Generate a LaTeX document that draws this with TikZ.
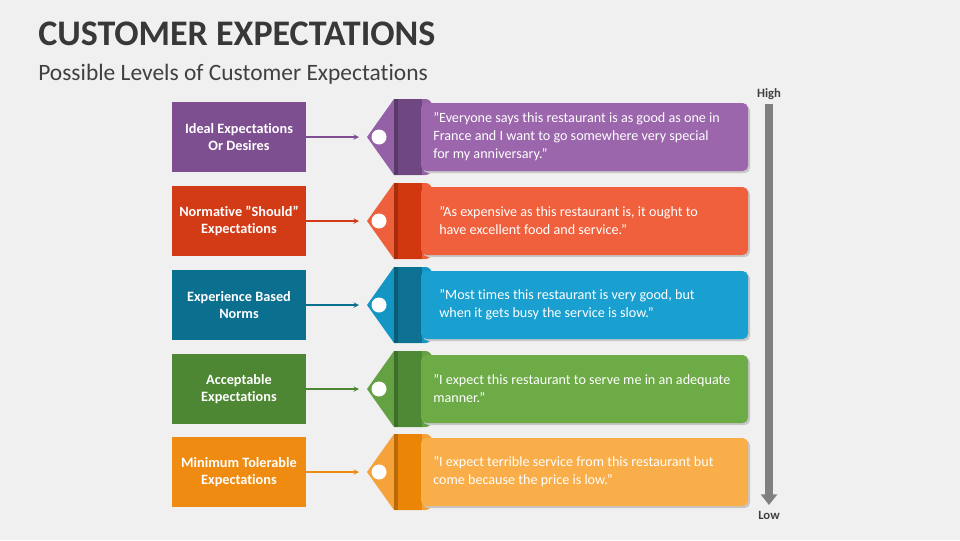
\documentclass[tikz,border=0pt]{standalone}
\usepackage{fontspec}
\setmainfont{Carlito}[Ligatures={NoCommon}]
\usetikzlibrary{arrows.meta}
\begin{document}
\begin{tikzpicture}[x=0.75pt,y=-0.75pt,
  lbl/.style={font=\fontsize{10.7}{13}\selectfont\bfseries,text=white,align=center,inner sep=0},
  qt/.style={font=\fontsize{10.6}{13.5}\selectfont,text=white,align=left,anchor=west,inner sep=0}]
\fill[white!94!black] (0,0) rectangle (960,540);
\useasboundingbox (0,0) rectangle (960,540);
\node[anchor=west,inner sep=0,text=black!78,font=\fontsize{27}{30}\selectfont\bfseries] (title) at (38,34) {CUSTOMER EXPECTATIONS};
\node[anchor=west,inner sep=0,text=black!75,font=\fontsize{17.6}{20}\selectfont] (sub) at (38,74) {Possible Levels of Customer Expectations};
\def\q{\symbol{34}}
\def\row#1#2#3#4#5#6#7#8{%
  \fill[#2] (172,#1-35) rectangle (306,#1+35);
  \node[lbl] (l#8) at (239,#1) {#6};
  \fill[#4] (367,#1) -- (394,#1-38) [rounded corners=5] -- (432,#1-38) -- (432,#1+38) [sharp corners] -- (394,#1+38) -- cycle;
  \fill[#5] (398,#1-38) rectangle (422,#1+38);
  \fill[#5!80!black] (394,#1-38) rectangle (398,#1+38);
  \fill[white] (379,#1) circle (7.5);
  \coordinate (c#8) at (359,#1);
  \draw[#2,-stealth,line width=0.8] (306,#1) -- (c#8);
  \fill[black!22,rounded corners=4] (423,#1-32) rectangle (750,#1+36);
  \fill[#3,rounded corners=4] (421,#1-34) rectangle (748,#1+34);
  \node[qt] (q#8) at (#7,#1) {\csname txt#8\endcsname};
}
\def\txta{\q Everyone says this restaurant is as good as one in\\France and I want to go somewhere very special\\for my anniversary.\q}
\def\txtb{\q As expensive as this restaurant is, it ought to\\have excellent food and service.\q}
\def\txtc{\q Most times this restaurant is very good, but\\when it gets busy the service is slow.\q}
\def\txtd{\q I expect this restaurant to serve me in an adequate\\manner.\q}
\def\txte{\q I expect terrible service from this restaurant but\\come because the price is low.\q}
\definecolor{pA}{HTML}{7D4F90}\definecolor{pB}{HTML}{9B66AC}\definecolor{pC}{HTML}{9561A6}\definecolor{pD}{HTML}{6F4781}
\definecolor{rA}{HTML}{D33A16}\definecolor{rB}{HTML}{F0603D}\definecolor{rC}{HTML}{EE5F3B}\definecolor{rD}{HTML}{D2380F}
\definecolor{tA}{HTML}{0B6F90}\definecolor{tB}{HTML}{1AA0D0}\definecolor{tC}{HTML}{1396C4}\definecolor{tD}{HTML}{0C7192}
\definecolor{gA}{HTML}{4E8734}\definecolor{gB}{HTML}{6CAB46}\definecolor{gC}{HTML}{64A142}\definecolor{gD}{HTML}{4E8A35}
\definecolor{oA}{HTML}{EE8B10}\definecolor{oB}{HTML}{F9AE4A}\definecolor{oC}{HTML}{F5A23A}\definecolor{oD}{HTML}{EA8508}
\row{137}{pA}{pB}{pC}{pD}{Ideal Expectations\\Or Desires}{433}{a}
\row{221}{rA}{rB}{rC}{rD}{Normative \q Should\q\\Expectations}{439}{b}
\row{305}{tA}{tB}{tC}{tD}{Experience Based\\Norms}{439}{c}
\row{389}{gA}{gB}{gC}{gD}{Acceptable\\Expectations}{433}{d}
\row{472}{oA}{oB}{oC}{oD}{Minimum Tolerable\\Expectations}{433}{e}
\node[font=\fontsize{9.5}{11}\selectfont\bfseries,text=black!75,inner sep=0] (hi) at (769,94) {High};
\node[font=\fontsize{9.5}{11}\selectfont\bfseries,text=black!75,inner sep=0] (lo) at (769,515) {Low};
\draw[black!50,line width=6,-{Triangle[width=12,length=8]}] (hi.south) ++(0,4) -- (769,505);
\end{tikzpicture}
\end{document}
